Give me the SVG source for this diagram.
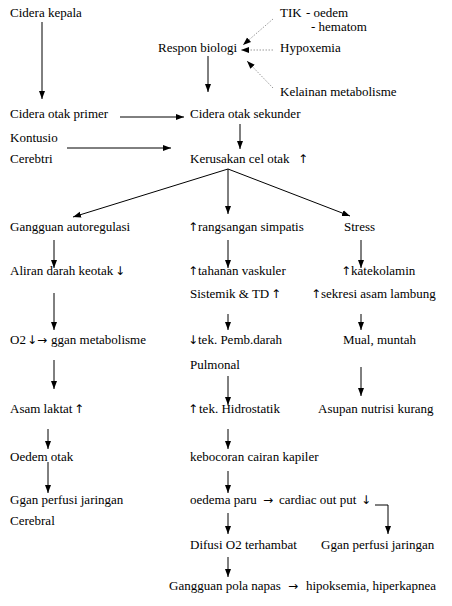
<svg xmlns="http://www.w3.org/2000/svg" width="452" height="606" viewBox="0 0 452 606">
<style>
text{font-family:"Liberation Serif","Times New Roman",serif;font-size:13px;fill:#000}
text.r{font-family:"DejaVu Sans",sans-serif;font-size:12px}
.c line,.c path{stroke:#000;stroke-width:1;fill:none}
.c .d{stroke:#999;stroke-dasharray:1.5 1.5}
</style>
<defs>
<marker id="a" markerUnits="userSpaceOnUse" markerWidth="8" markerHeight="8" viewBox="0 0 8 8" refX="8" refY="4" orient="auto">
<path d="M0,1 L8,4 L0,7 z" fill="#000"/>
</marker>
</defs>
<rect width="452" height="606" fill="#fff"/>
<g class="c" id="connectors">
<line x1="42" y1="22" x2="42" y2="99" marker-end="url(#a)"/>
<line class="d" x1="273" y1="19" x2="243" y2="45" marker-end="url(#a)"/>
<line class="d" x1="273" y1="50" x2="241" y2="50" marker-end="url(#a)"/>
<line class="d" x1="273" y1="88" x2="247" y2="61" marker-end="url(#a)"/>
<line x1="208" y1="56" x2="208" y2="92" marker-end="url(#a)"/>
<line x1="120" y1="117" x2="184" y2="117" marker-end="url(#a)"/>
<line x1="240" y1="124" x2="240" y2="149" marker-end="url(#a)"/>
<line x1="67" y1="148" x2="171" y2="148" marker-end="url(#a)"/>
<line x1="228" y1="169" x2="73" y2="217" marker-end="url(#a)"/>
<line x1="228" y1="169" x2="228" y2="214" marker-end="url(#a)"/>
<line x1="228" y1="169" x2="350" y2="216" marker-end="url(#a)"/>
<line x1="54" y1="240" x2="54" y2="268" marker-end="url(#a)"/>
<line x1="228" y1="240" x2="228" y2="268" marker-end="url(#a)"/>
<line x1="361" y1="240" x2="361" y2="268" marker-end="url(#a)"/>
<line x1="54" y1="293" x2="54" y2="330" marker-end="url(#a)"/>
<line x1="228" y1="314" x2="228" y2="330" marker-end="url(#a)"/>
<line x1="361" y1="314" x2="361" y2="330" marker-end="url(#a)"/>
<line x1="54" y1="360" x2="54" y2="389" marker-end="url(#a)"/>
<line x1="228" y1="376" x2="228" y2="405" marker-end="url(#a)"/>
<line x1="361" y1="367" x2="361" y2="396" marker-end="url(#a)"/>
<line x1="48" y1="429" x2="48" y2="449" marker-end="url(#a)"/>
<line x1="228" y1="429" x2="228" y2="449" marker-end="url(#a)"/>
<line x1="48" y1="462" x2="48" y2="493" marker-end="url(#a)"/>
<line x1="228" y1="471" x2="228" y2="493" marker-end="url(#a)"/>
<path d="M375,505 H388 V534" marker-end="url(#a)"/>
<line x1="228" y1="513" x2="228" y2="534" marker-end="url(#a)"/>
<line x1="228" y1="557" x2="228" y2="577" marker-end="url(#a)"/>
</g>
<g id="n-cidera-kepala"><text x="10" y="17">Cidera kepala</text></g>
<g id="n-tik"><text x="280" y="17">TIK<tspan x="306">- oedem</tspan><tspan x="311" dy="14">- hematom</tspan></text></g>
<g id="n-respon"><text x="158" y="52">Respon biologi</text></g>
<g id="n-hypoxemia"><text x="280" y="52">Hypoxemia</text></g>
<g id="n-kelainan"><text x="280" y="96">Kelainan metabolisme</text></g>
<g id="n-primer"><text x="10" y="118">Cidera otak primer</text></g>
<g id="n-sekunder"><text x="190" y="118">Cidera otak sekunder</text></g>
<g id="n-kontusio"><text x="10" y="142">Kontusio</text><text x="10" y="163">Cerebtri</text></g>
<g id="n-kerusakan"><text x="190" y="163">Kerusakan cel otak</text><text class="r" x="298" y="163">↑</text></g>
<g id="n-autoregulasi"><text x="10" y="231">Gangguan autoregulasi</text></g>
<g id="n-simpatis"><text class="r" x="188" y="231">↑</text><text x="198" y="231">rangsangan simpatis</text></g>
<g id="n-stress"><text x="344" y="231">Stress</text></g>
<g id="n-aliran"><text x="10" y="275">Aliran darah keotak</text><text class="r" x="115" y="275">↓</text></g>
<g id="n-tahanan"><text class="r" x="188" y="275">↑</text><text x="198" y="275">tahanan vaskuler</text><text x="190" y="298">Sistemik &amp; TD</text><text class="r" x="271" y="298">↑</text></g>
<g id="n-katekolamin"><text class="r" x="341" y="275">↑</text><text x="351" y="275">katekolamin</text></g>
<g id="n-sekresi"><text class="r" x="311" y="298">↑</text><text x="321" y="298">sekresi asam lambung</text></g>
<g id="n-o2"><text x="10" y="344">O2</text><text class="r" x="27" y="344">↓</text><text class="r" x="37" y="344">→</text><text x="51" y="344">ggan metabolisme</text></g>
<g id="n-tek-pemb"><text class="r" x="188" y="344">↓</text><text x="198" y="344">tek. Pemb.darah</text><text x="190" y="369">Pulmonal</text></g>
<g id="n-mual"><text x="343" y="344">Mual, muntah</text></g>
<g id="n-asam"><text x="10" y="413">Asam laktat</text><text class="r" x="74" y="413">↑</text></g>
<g id="n-hidrostatik"><text class="r" x="188" y="413">↑</text><text x="199" y="413">tek. Hidrostatik</text></g>
<g id="n-asupan"><text x="318" y="413">Asupan nutrisi kurang</text></g>
<g id="n-oedem"><text x="10" y="461">Oedem otak</text></g>
<g id="n-kebocoran"><text x="190" y="461">kebocoran cairan kapiler</text></g>
<g id="n-ggan-cerebral"><text x="10" y="504">Ggan perfusi jaringan</text><text x="10" y="525">Cerebral</text></g>
<g id="n-oedema-paru"><text x="190" y="504">oedema paru</text><text class="r" x="263" y="504">→</text><text x="279" y="504">cardiac out put</text><text class="r" x="361" y="504">↓</text></g>
<g id="n-difusi"><text x="190" y="549">Difusi O2 terhambat</text></g>
<g id="n-ggan-perfusi"><text x="321" y="549">Ggan perfusi jaringan</text></g>
<g id="n-gangguan-pola"><text x="169" y="590">Gangguan pola napas</text><text class="r" x="288" y="590">→</text><text x="306" y="590">hipoksemia, hiperkapnea</text></g>
</svg>
